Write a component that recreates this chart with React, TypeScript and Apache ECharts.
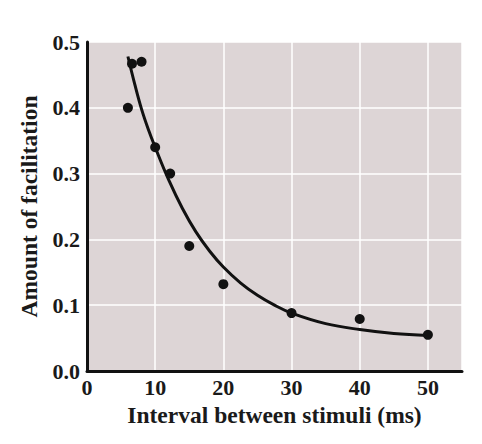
import React, { useEffect, useRef } from 'react';
import * as echarts from 'echarts';

// measured points (interval in ms, amount of facilitation)
const pointX = [6, 6.6, 8, 10, 12.2, 15, 20, 30, 40, 50];
const pointY = [0.4, 0.467, 0.47, 0.34, 0.3, 0.19, 0.132, 0.088, 0.079, 0.055];

// fitted curve
const curveX = [6, 7, 8, 9, 10, 12, 14, 16, 18, 20, 22.5, 25, 27.5, 30, 35, 40, 45, 50];
const curveY = [
  0.478, 0.436, 0.398, 0.367, 0.34, 0.29, 0.247, 0.211, 0.182, 0.158, 0.134, 0.115, 0.1,
  0.088, 0.072, 0.063, 0.057, 0.054
];

const xTicks = [0, 10, 20, 30, 40, 50];
const yTicks = [0, 0.1, 0.2, 0.3, 0.4, 0.5];

const FONT = '"Liberation Serif", "Times New Roman", serif';

const App: React.FC = () => {
  const chartRef = useRef<HTMLDivElement>(null);

  useEffect(() => {
    if (!chartRef.current) return;
    const chart = echarts.init(chartRef.current, null, { renderer: 'svg' });

    const option: echarts.EChartsOption = {
      animation: false,
      backgroundColor: '#ffffff',
      grid: {
        left: 87,
        right: 20,
        top: 42,
        bottom: 73,
        show: true,
        backgroundColor: '#ddd5d6',
        borderWidth: 0
      },
      xAxis: {
        type: 'value',
        min: xTicks[0],
        max: 55,
        interval: 10,
        name: 'Interval between stimuli (ms)',
        nameLocation: 'middle',
        nameGap: 30,
        nameTextStyle: { fontFamily: FONT, fontWeight: 'bold', fontSize: 23.5, color: '#1a1a1a' },
        axisLine: { show: true, lineStyle: { color: '#111', width: 3 } },
        axisTick: { show: false },
        axisLabel: {
          margin: 5,
          fontFamily: FONT,
          fontWeight: 'bold',
          fontSize: 22,
          color: '#1a1a1a',
          formatter: (v: number) => (xTicks.includes(v) ? String(v) : '')
        },
        splitLine: { show: true, lineStyle: { color: '#ffffff', width: 1.5 } }
      },
      yAxis: {
        type: 'value',
        min: yTicks[0],
        max: yTicks[yTicks.length - 1],
        interval: 0.1,
        name: 'Amount of facilitation',
        nameLocation: 'middle',
        nameGap: 46,
        nameTextStyle: { fontFamily: FONT, fontWeight: 'bold', fontSize: 23.5, color: '#1a1a1a' },
        axisLine: { show: true, lineStyle: { color: '#111', width: 3 } },
        axisTick: { show: false },
        axisLabel: {
          margin: 7,
          fontFamily: FONT,
          fontWeight: 'bold',
          fontSize: 22,
          color: '#1a1a1a',
          formatter: (v: number) => v.toFixed(1)
        },
        splitLine: { show: true, lineStyle: { color: '#ffffff', width: 1.5 } }
      },
      series: [
        {
          type: 'line',
          data: curveX.map((x, i) => [x, curveY[i]]),
          smooth: 0.4,
          showSymbol: false,
          lineStyle: { color: '#111', width: 3 },
          z: 2
        },
        {
          type: 'scatter',
          data: pointX.map((x, i) => [x, pointY[i]]),
          symbol: 'circle',
          symbolSize: 10,
          itemStyle: { color: '#111', opacity: 1 },
          z: 3
        }
      ]
    };

    chart.setOption(option);
    return () => chart.dispose();
  }, []);

  return (
    <div
      ref={chartRef}
      style={{ position: 'absolute', left: 0, top: 0, width: 482, height: 444 }}
    />
  );
};

export default App;
